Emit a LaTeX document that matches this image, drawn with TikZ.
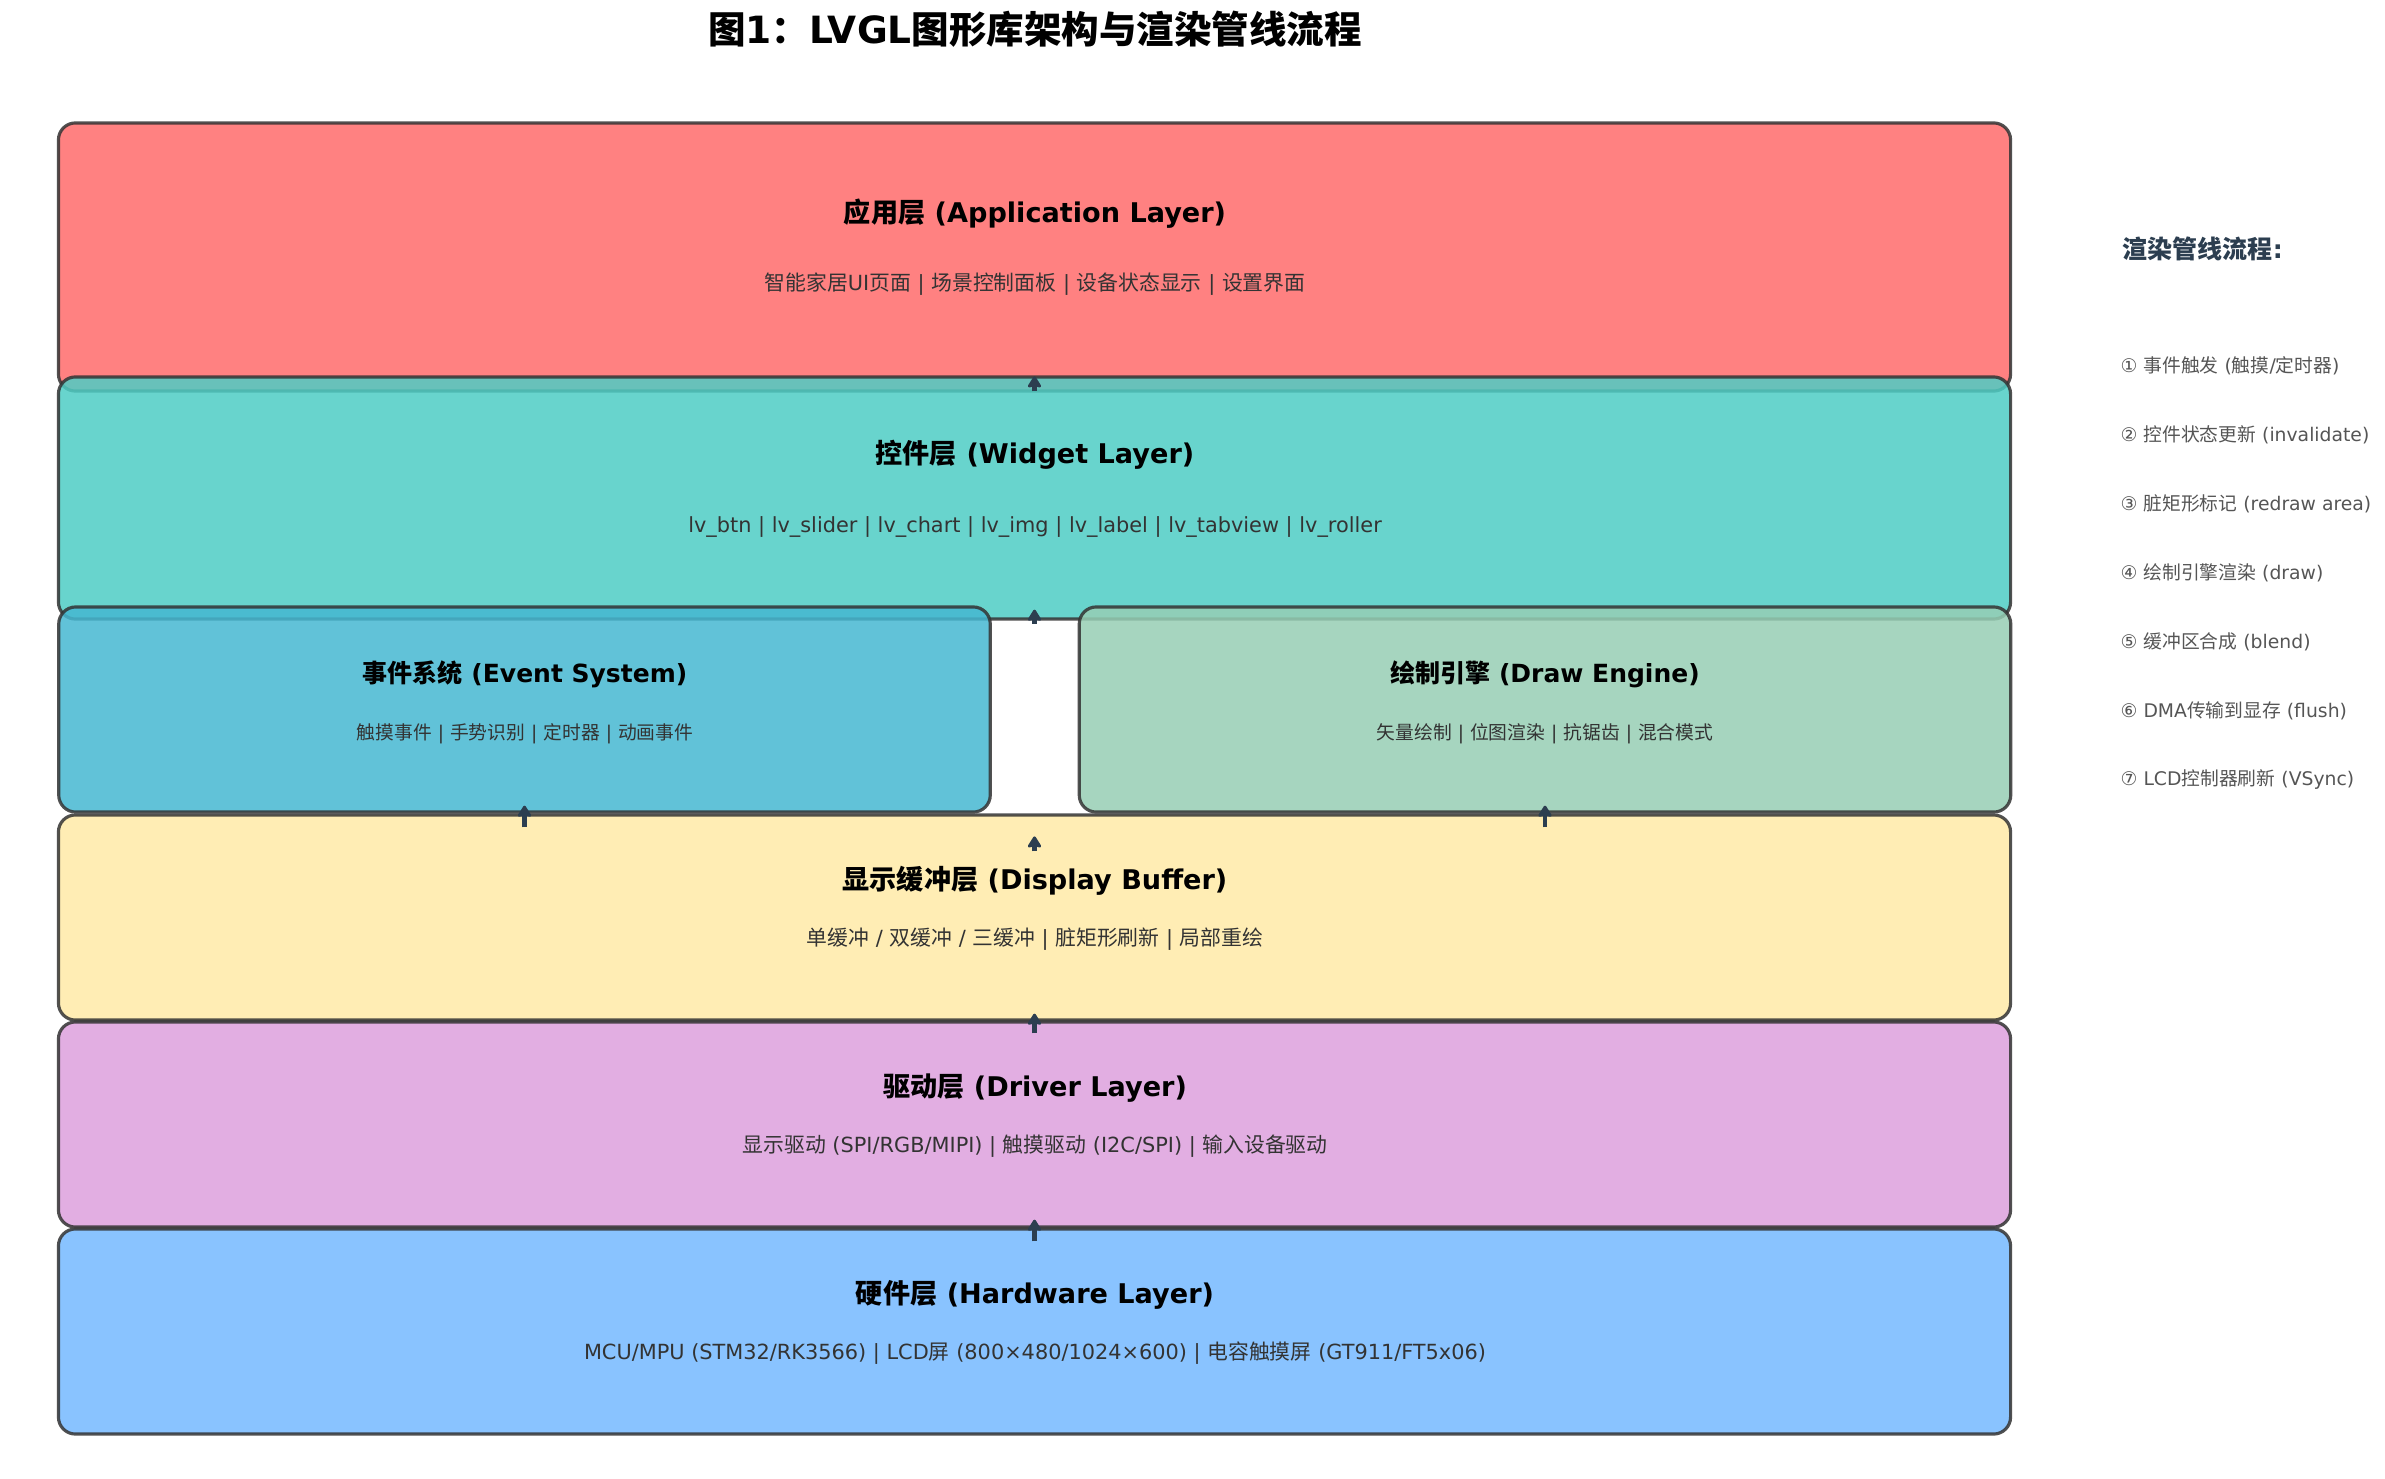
\documentclass[tikz,border=0pt]{standalone}
\usepackage{fontspec}
\setmainfont{DejaVu Sans}
\newfontfamily\cjkfont{Noto Sans CJK SC}
\usetikzlibrary{arrows.meta, positioning}

% Chinese characters switch to the CJK font by themselves
\XeTeXinterchartokenstate=1
\chardef\cjkclass=100
\newcount\cjkcount
\cjkcount="2E80
\loop\ifnum\cjkcount<"A000 \XeTeXcharclass\cjkcount=\cjkclass \advance\cjkcount by 1 \repeat
\cjkcount="FF00
\loop\ifnum\cjkcount<"FFF0 \XeTeXcharclass\cjkcount=\cjkclass \advance\cjkcount by 1 \repeat
\XeTeXinterchartoks 0 \cjkclass = {\begingroup\cjkfont}
\XeTeXinterchartoks 4095 \cjkclass = {\begingroup\cjkfont}
\XeTeXinterchartoks \cjkclass 0 = {\endgroup}
\XeTeXinterchartoks \cjkclass 4095 = {\endgroup}

\definecolor{appRed}{RGB}{255, 107, 107}
\definecolor{widgetTeal}{RGB}{78, 205, 196}
\definecolor{eventBlue}{RGB}{69, 183, 209}
\definecolor{drawGreen}{RGB}{150, 206, 180}
\definecolor{bufferYellow}{RGB}{255, 234, 167}
\definecolor{driverPlum}{RGB}{221, 160, 221}
\definecolor{hardwareBlue}{RGB}{116, 185, 255}
\definecolor{edgeGray}{RGB}{51, 51, 51}
\definecolor{arrowNavy}{RGB}{44, 62, 80}
\definecolor{listGray}{RGB}{85, 85, 85}

\begin{document}
\begin{tikzpicture}[x=0.01cm, y=-0.01cm,
    layer/.style={draw=edgeGray, line width=0.9pt, rounded corners=0.17cm, opacity=0.85, inner sep=0pt, minimum width=19.51cm, minimum height=2.05cm},
    half/.style={layer, minimum width=9.31cm},
    ltitle/.style={font=\fontsize{7.71}{9}\selectfont\bfseries},
    stitle/.style={font=\fontsize{7.11}{9}\selectfont\bfseries},
    lsub/.style={font=\fontsize{5.93}{7}\selectfont, text=edgeGray},
    ssub/.style={font=\fontsize{5.34}{7}\selectfont, text=edgeGray},
    flow/.style={-{Stealth[length=0.13cm, width=0.16cm, inset=0.02cm, round]}, line width=1.4pt, arrowNavy}]
    \useasboundingbox (0,0) rectangle (2385,1479);

    % Title
    \node[font=\fontsize{10.67}{13}\selectfont\bfseries] (title) at (1035,29) {图1：LVGL图形库架构与渲染管线流程};

    % Layers
    \node[layer, fill=appRed, minimum height=2.68cm] (app) at (1034.5,257) {};
    \node[layer, fill=widgetTeal, minimum height=2.42cm] (wid) at (1034.5,498) {};
    \node[half, fill=eventBlue] (evt) at (524.5,709.5) {};
    \node[half, fill=drawGreen] (drw) at (1545,709.5) {};
    \node[layer, fill=bufferYellow] (buf) at (1034.5,917.5) {};
    \node[layer, fill=driverPlum] (drv) at (1034.5,1124.5) {};
    \node[layer, fill=hardwareBlue] (hw) at (1034.5,1331.5) {};

    % Layer texts
    \node[ltitle] (appT) at (1035,214) {应用层 (Application Layer)};
    \node[lsub] (appS) at (1035,284) {智能家居UI页面 | 场景控制面板 | 设备状态显示 | 设置界面};
    \node[ltitle] (widT) at (1035,455) {控件层 (Widget Layer)};
    \node[lsub] (widS) at (1035,527) {lv\_btn | lv\_slider | lv\_chart | lv\_img | lv\_label | lv\_tabview | lv\_roller};
    \node[stitle] (evtT) at (525,674) {事件系统 (Event System)};
    \node[ssub] (evtS) at (525,734) {触摸事件 | 手势识别 | 定时器 | 动画事件};
    \node[stitle] (drwT) at (1545,674) {绘制引擎 (Draw Engine)};
    \node[ssub] (drwS) at (1545,734) {矢量绘制 | 位图渲染 | 抗锯齿 | 混合模式};
    \node[ltitle] (bufT) at (1035,881) {显示缓冲层 (Display Buffer)};
    \node[lsub] (bufS) at (1035,939) {单缓冲 / 双缓冲 / 三缓冲 | 脏矩形刷新 | 局部重绘};
    \node[ltitle] (drvT) at (1035,1088) {驱动层 (Driver Layer)};
    \node[lsub] (drvS) at (1035,1146) {显示驱动 (SPI/RGB/MIPI) | 触摸驱动 (I2C/SPI) | 输入设备驱动};
    \node[ltitle] (hwT) at (1035,1295) {硬件层 (Hardware Layer)};
    \node[lsub] (hwS) at (1035,1353) {MCU/MPU (STM32/RK3566) | LCD屏 (800×480/1024×600) | 电容触摸屏 (GT911/FT5x06)};

    % Arrows
    \draw[flow] ([yshift=-0.14cm]hw.north) -- ([yshift=0.09cm]drv.south);
    \draw[flow] ([yshift=-0.13cm]drv.north) -- ([yshift=0.08cm]buf.south);
    \draw[flow] ([yshift=-0.14cm]buf.north -| evt.south) -- ([yshift=0.08cm]evt.south);
    \draw[flow] ([yshift=-0.14cm]buf.north -| drw.south) -- ([yshift=0.08cm]drw.south);
    \draw[flow] ([yshift=-0.38cm]buf.north) -- ([yshift=-0.23cm]buf.north);
    \draw[flow] ([yshift=-0.03cm]wid.south) -- ([yshift=0.11cm]wid.south);
    \draw[flow] ([yshift=-0.16cm]wid.north) -- ([yshift=-0.01cm]wid.north);

    % Pipeline list
    \node[anchor=west, inner xsep=0pt, font=\fontsize{7.11}{9}\selectfont\bfseries, text=arrowNavy] (pipeT) at (2122,249) {渲染管线流程:};
    \foreach \step [count=\i] in {{① 事件触发 (触摸/定时器)}, {② 控件状态更新 (invalidate)}, {③ 脏矩形标记 (redraw area)}, {④ 绘制引擎渲染 (draw)}, {⑤ 缓冲区合成 (blend)}, {⑥ DMA传输到显存 (flush)}, {⑦ LCD控制器刷新 (VSync)}}
        \node[anchor=west, inner xsep=0pt, font=\fontsize{5.34}{7}\selectfont, text=listGray] (pipe\i) at (2120,{366+(\i-1)*69}) {\step};
\end{tikzpicture}
\end{document}
